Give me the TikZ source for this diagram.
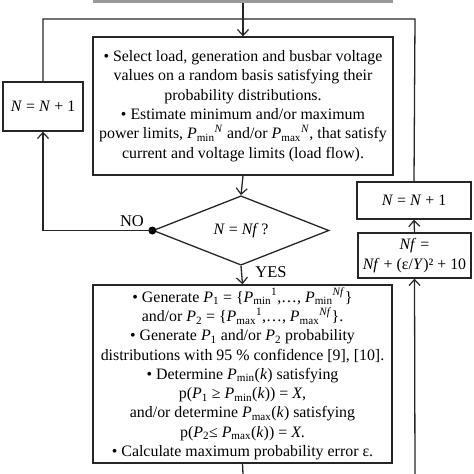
\documentclass[tikz,border=0pt]{standalone}
\usepackage{fontspec}
\setmainfont{Liberation Serif}
\usetikzlibrary{arrows.meta,shapes.geometric}
\newcommand\PA{\textit{P}\textsubscript{1}}
\newcommand\PB{\textit{P}\textsubscript{2}}
\newcommand\Pmn{\textit{P}\textsubscript{min}}
\newcommand\Pmx{\textit{P}\textsubscript{max}}
\tikzset{
  ln/.style={draw=black!85, line width=1.3pt},
  arr/.style={ln, -{Straight Barb[length=6pt,width=11pt,line width=1.2pt]}},
  box/.style={ln, inner sep=0pt, align=center, font=\fontsize{15.9}{19.3}\selectfont},
  lbl/.style={inner sep=0pt, font=\fontsize{16.5}{19}\selectfont}
}
\begin{document}
\begin{tikzpicture}[x=1pt,y=-1pt]
\useasboundingbox (0,0) rectangle (474,474);
% gray bar of previous box
\fill[black!40] (93,0) rectangle (393,2.5);
\coordinate (top) at (243,2.5);
\coordinate (tl) at (43,19);
\coordinate (tr) at (415,19);
\coordinate (bot) at (243,474);
\coordinate (rbot) at (415,474);

\node[box, minimum width=300pt, minimum height=138pt] (b1) at (243,106)
 {• Select load, generation and busbar voltage\\
  values on a random basis satisfying their\\
  probability distributions.\\
  • Estimate minimum and/or maximum\\
  power limits, \Pmn\textsuperscript{\textit{N}} and/or \Pmx\textsuperscript{\textit{N}}, that satisfy\\
  current and voltage limits (load flow).};

\node[box, diamond, minimum width=176pt, minimum height=55pt] (dec) at (241,230.5)
 {\textit{N} = \textit{Nf}\,?};

\node[box, minimum width=80pt, minimum height=49pt] (lb) at (43,106.5)
 {\textit{N} = \textit{N} + 1};

\node[box, minimum width=114pt, minimum height=37pt] (rb) at (414,200.5)
 {\textit{N} = \textit{N} + 1};

\node[box, minimum width=113pt, minimum height=45pt] (nf) at (414.5,255.5)
 {\textit{Nf} =\\ \textit{Nf} + (ε/\textit{Y})² + 10};

\node[box, minimum width=299pt, minimum height=178pt] (b2) at (242.5,374)
 {• Generate \PA{} = \{\Pmn\textsuperscript{1},\dots, \Pmn\textsuperscript{\textit{Nf}}\}\\
  and/or \PB{} = \{\Pmx\textsuperscript{1},\dots, \Pmx\textsuperscript{\textit{Nf}}\}.\\
  • Generate \PA{} and/or \PB{} probability\\
  distributions with 95 \% confidence [9], [10].\\
  • Determine \Pmn(\textit{k}) satisfying\\
  p(\PA{} ≥ \Pmn(\textit{k})) = \textit{X},\\
  and/or determine \Pmx(\textit{k}) satisfying\\
  p(\PB≤ \Pmx(\textit{k})) = \textit{X}.\\
  • Calculate maximum probability error ε.};

\node[circle, fill=black, inner sep=0pt, minimum size=8pt] (dot) at (dec.west) {};
\node[lbl] (no) at (132,221) {NO};
\node[lbl] (yes) at (271,272) {YES};

\draw[arr] (top) -- (b1.north);
\draw[arr] (b1.south) -- (dec.north);
\draw[arr] (dec.south) -- (b2.north);
\draw[ln] (b2.south) -- (bot);
\draw[arr] (dot.center) -| (lb.south);
\draw[ln] (lb.north) -- (tl) -- (tr) -- (rb.north);
\draw[arr] (nf.north) -- (rb.south);
\draw[arr] (rbot) -- (nf.south);
\end{tikzpicture}
\end{document}
